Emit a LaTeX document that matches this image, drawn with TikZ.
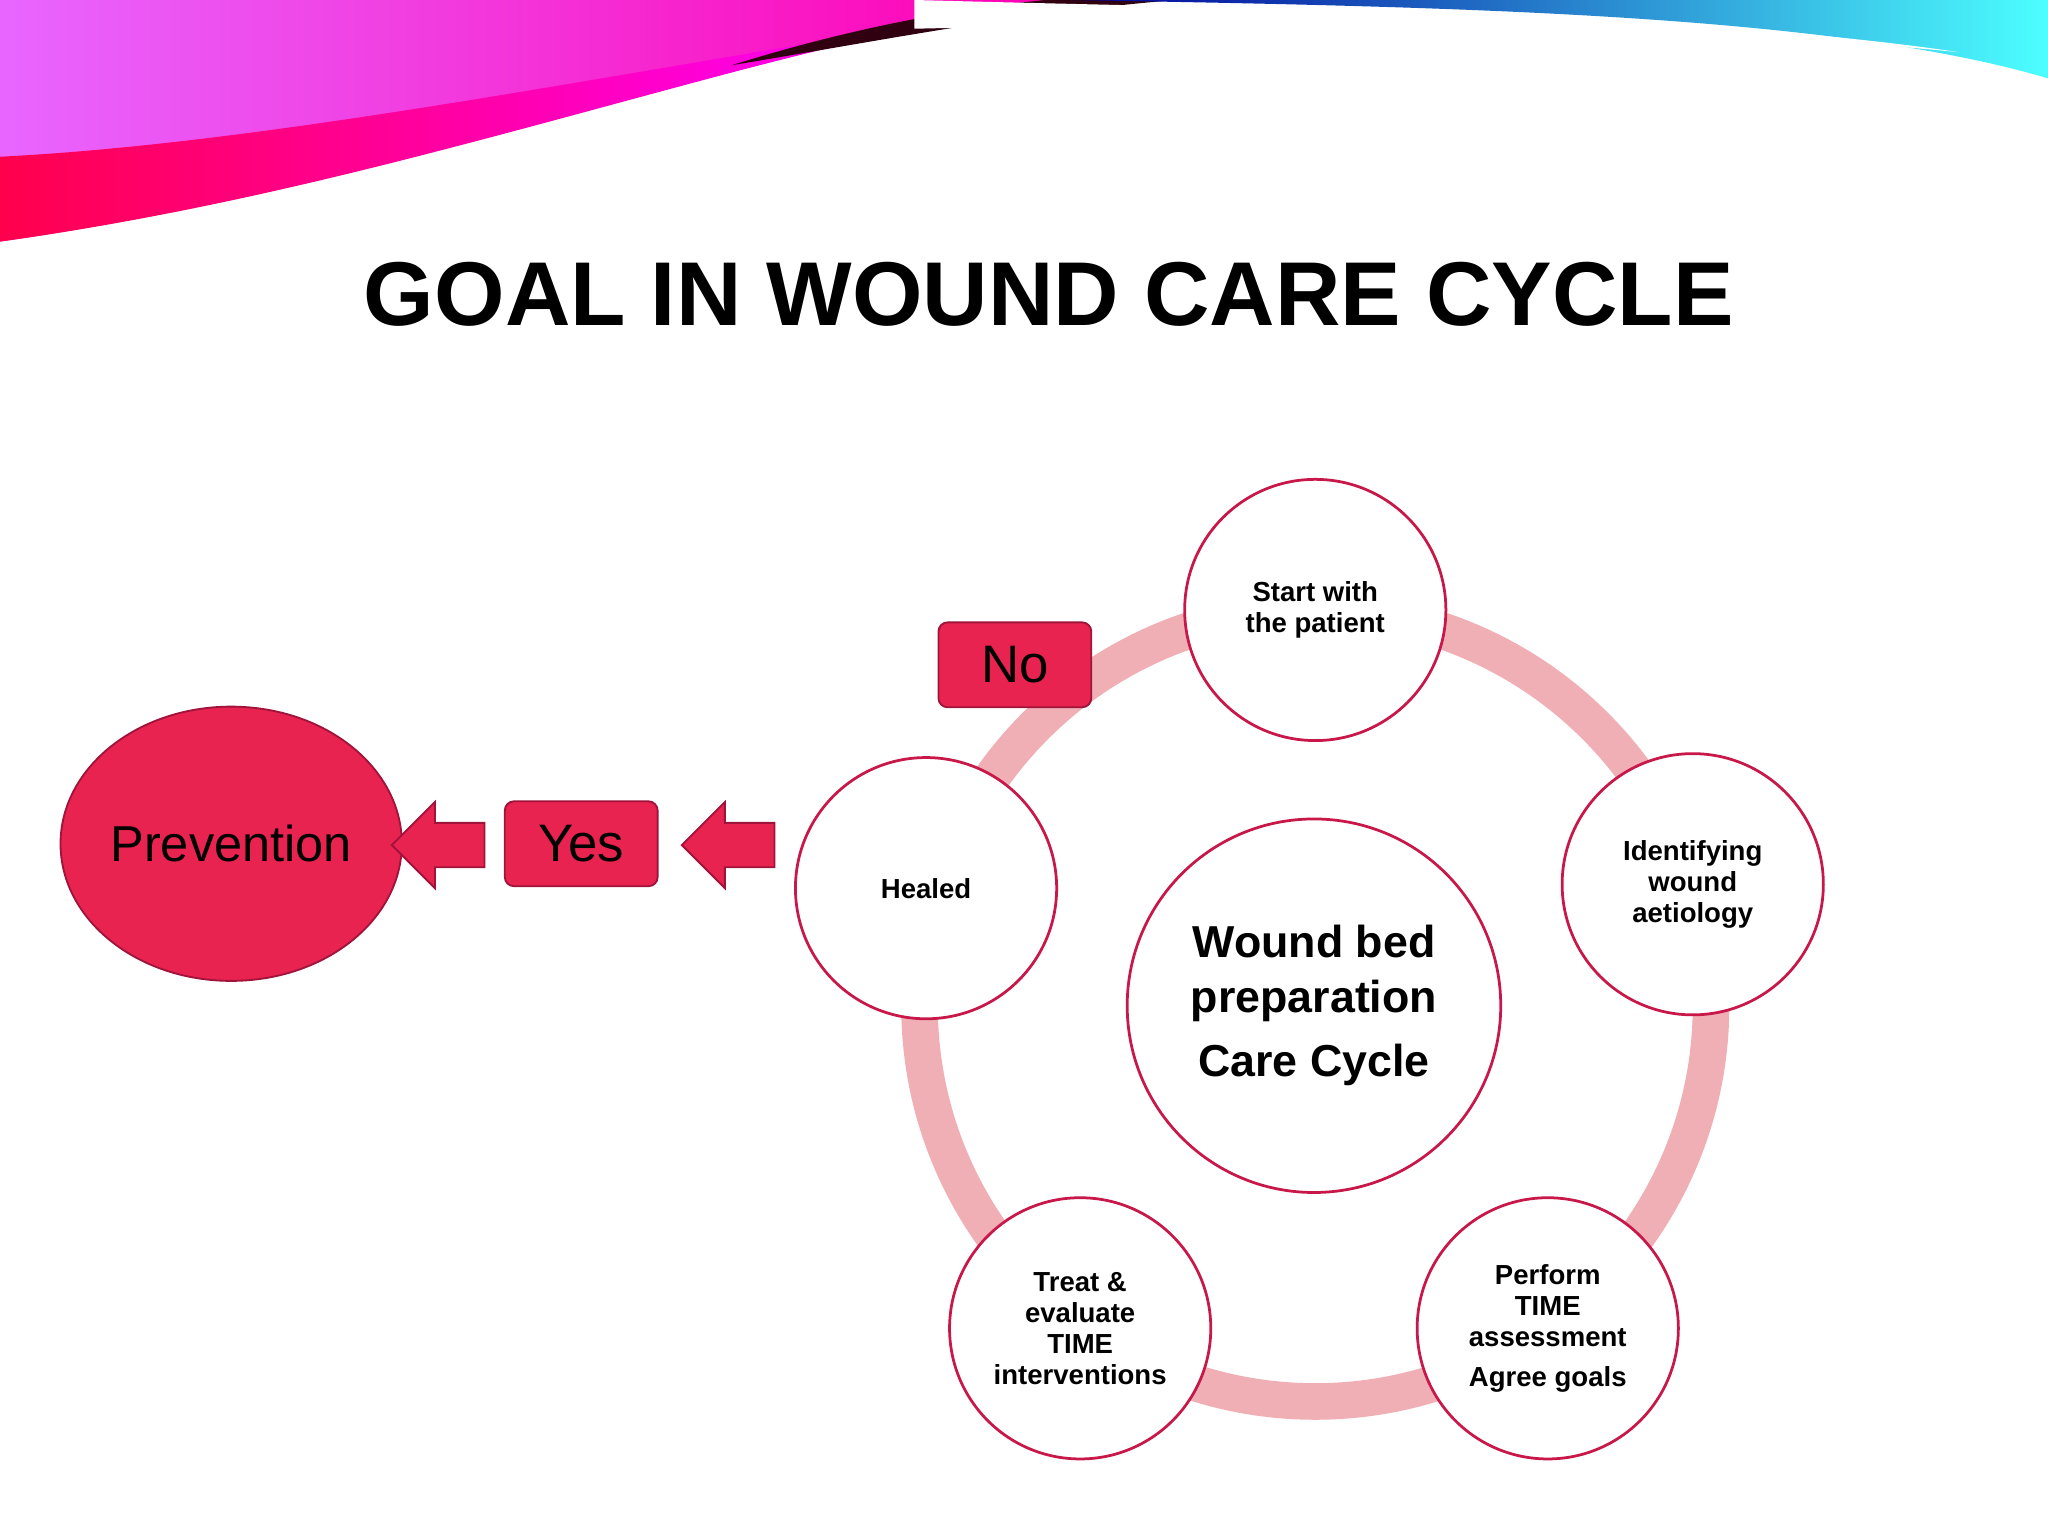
\documentclass[tikz,border=0pt]{standalone}
\usepackage{fontspec}
\setmainfont{Liberation Sans}
\usetikzlibrary{shapes.geometric}
\begin{document}
\begin{tikzpicture}[x=0.02cm,y=-0.02cm,
  stage/.style={circle,draw=crim,line width=1.2pt,fill=white,minimum size=200*0.02cm,inner sep=0pt,align=center,font=\bfseries\fontsize{12}{13.5}\selectfont},
  box/.style={draw=crim!80!black,fill=rosy,rounded corners=4pt,line width=0.8pt,font=\fontsize{23}{26}\selectfont,minimum width=117*0.02cm,minimum height=65*0.02cm,inner sep=0pt},
  larrow/.style={fill=rosy,draw=crim!80!black,line width=0.8pt}]
\definecolor{crim}{HTML}{C8184A}
\definecolor{rosy}{HTML}{E8234F}
\definecolor{ring}{HTML}{F0AEB5}
\useasboundingbox (0,0) rectangle (1568,1176);
\fill[white] (0,0) rectangle (1568,1176);
% banner
\shade[left color=magenta!85!blue!60, right color=magenta!70!red] (0,0) -- (800,0) .. controls (500,60) and (250,150) .. (0,185) -- cycle;
\shade[left color=red!70!magenta, right color=magenta] (0,120) .. controls (200,110) and (450,60) .. (700,20) .. controls (450,80) and (250,150) .. (0,185) -- cycle;
\fill[black!75!purple] (560,50) .. controls (640,25) and (720,8) .. (800,0) -- (900,0) .. controls (780,10) and (680,30) .. (560,50) -- cycle;
\shade[left color=blue!60!black, right color=cyan!70] (820,0) -- (1568,0) -- (1568,60) .. controls (1400,10) and (1100,5) .. (820,0) -- cycle;
\fill[white] (700,0) .. controls (1000,8) and (1300,10) .. (1500,40) .. controls (1300,20) and (1000,15) .. (700,22) -- cycle;
% title
\node (title) at (803,225) {\bfseries\fontsize{39.5}{45}\selectfont GOAL IN WOUND CARE CYCLE};
% ring
\draw[ring,line width=28*0.02cm] (1007,770) circle (303);
\node[stage,minimum size=286*0.02cm,font=\bfseries\fontsize{19.5}{24}\selectfont] (c) at (1006,770) {Wound bed\\preparation\\[4pt]Care Cycle};
\node[stage] (s) at (1007,467) {Start with\\the patient};
\node[stage] (i) at (1296,677) {Identifying\\wound\\aetiology};
\node[stage] (p) at (1185,1017) {Perform\\TIME\\assessment\\[4pt]Agree goals};
\node[stage] (t) at (827,1017) {Treat \&\\evaluate\\TIME\\interventions};
\node[stage] (h) at (709,680) {Healed};
\node[box] (no) at (777,509) {No};
\node[box] (yes) at (445,646) {Yes};
\node[ellipse,draw=crim!80!black,fill=rosy,line width=0.8pt,inner sep=0pt,minimum width=224*0.02cm,minimum height=210*0.02cm,font=\fontsize{22}{26}\selectfont] (prev) at (177,646) {Prevention};
\filldraw[larrow] (593,630) -- (555,630) -- (555,614) -- (522,647) -- (555,680) -- (555,664) -- (593,664) -- cycle;
\filldraw[larrow] (371,630) -- (333,630) -- (333,614) -- (300,647) -- (333,680) -- (333,664) -- (371,664) -- cycle;
\end{tikzpicture}
\end{document}
